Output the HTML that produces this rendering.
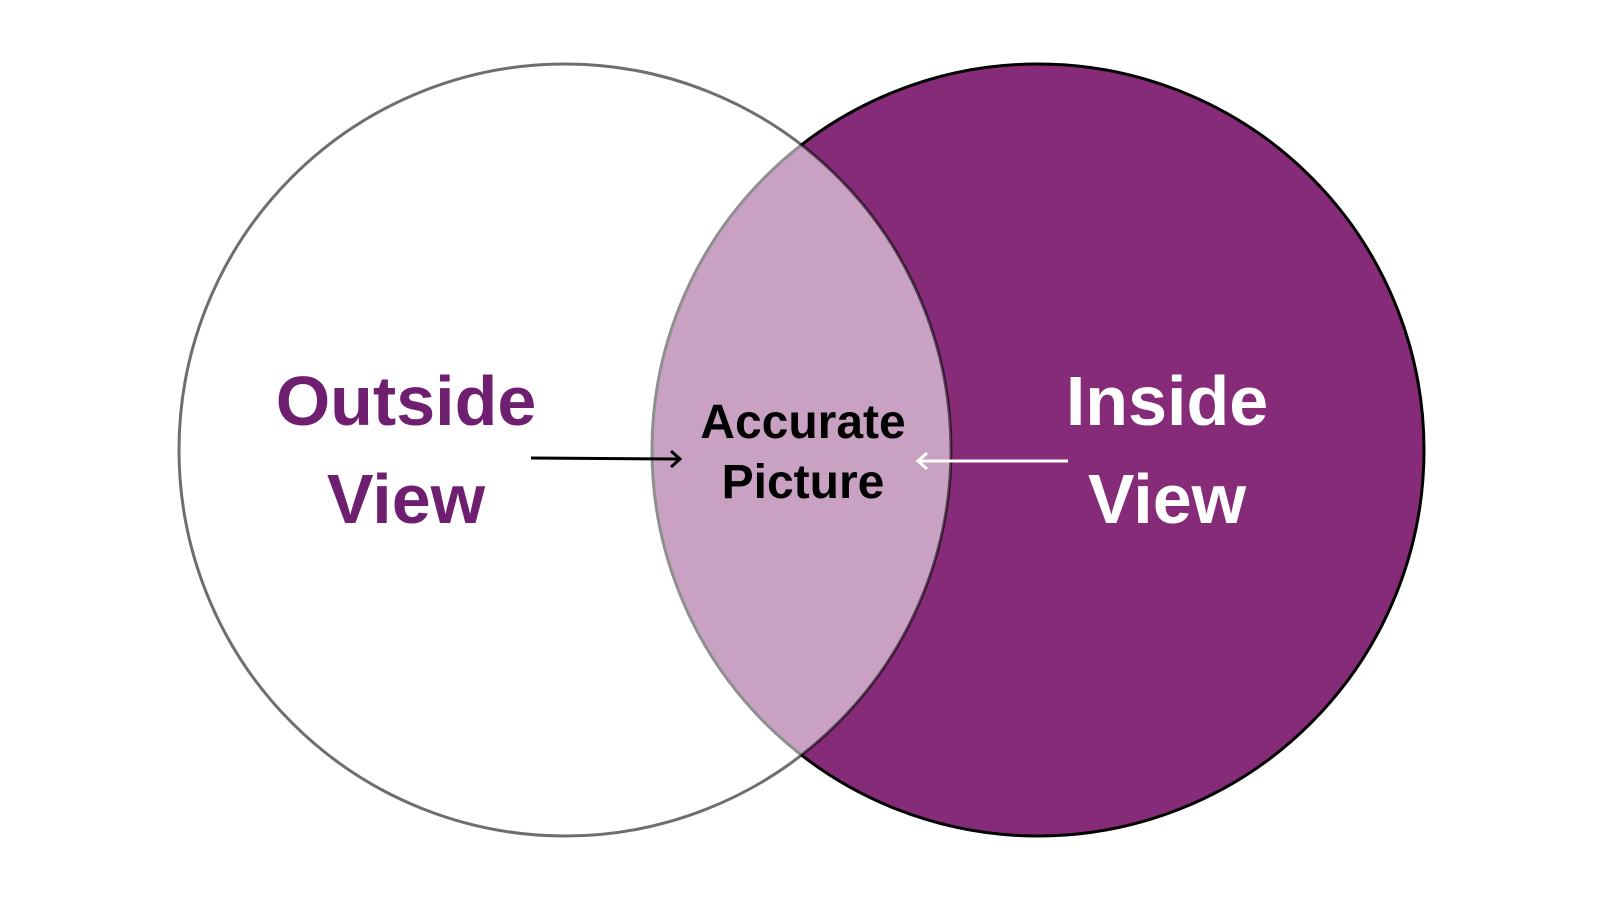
<!DOCTYPE html>
<html><head><meta charset="utf-8"><style>html,body{margin:0;padding:0;background:#fff}</style></head>
<body>
<svg width="1600" height="900" viewBox="0 0 1600 900" xmlns="http://www.w3.org/2000/svg">
<rect width="1600" height="900" fill="#fff"/>
<circle cx="1038" cy="450" r="386" fill="#852b77" stroke="#000" stroke-width="3"/>
<circle cx="565" cy="450" r="386" fill="rgba(255,255,255,0.56)" stroke="rgba(0,0,0,0.57)" stroke-width="3"/>
<g font-family="Liberation Sans, sans-serif" font-weight="bold" text-anchor="middle">
<text x="406" y="425" font-size="70" fill="#6f1f70">Outside</text>
<text x="406" y="523" font-size="70" fill="#6f1f70">View</text>
<text x="1167" y="425" font-size="70" fill="#fff">Inside</text>
<text x="1167" y="523" font-size="70" fill="#fff">View</text>
<text x="803" y="438" font-size="48" fill="#000">Accurate</text>
<text x="803" y="498" font-size="48" fill="#000">Picture</text>
</g>
<line x1="531" y1="458" x2="679" y2="459" stroke="#000" stroke-width="3"/>
<polyline points="671,451 680,459 671,467" fill="none" stroke="#000" stroke-width="3"/>
<line x1="1068" y1="461" x2="919" y2="461" stroke="#fff" stroke-width="3"/>
<polyline points="927,453 918,461 927,469" fill="none" stroke="#fff" stroke-width="3"/>
</svg>
</body></html>
